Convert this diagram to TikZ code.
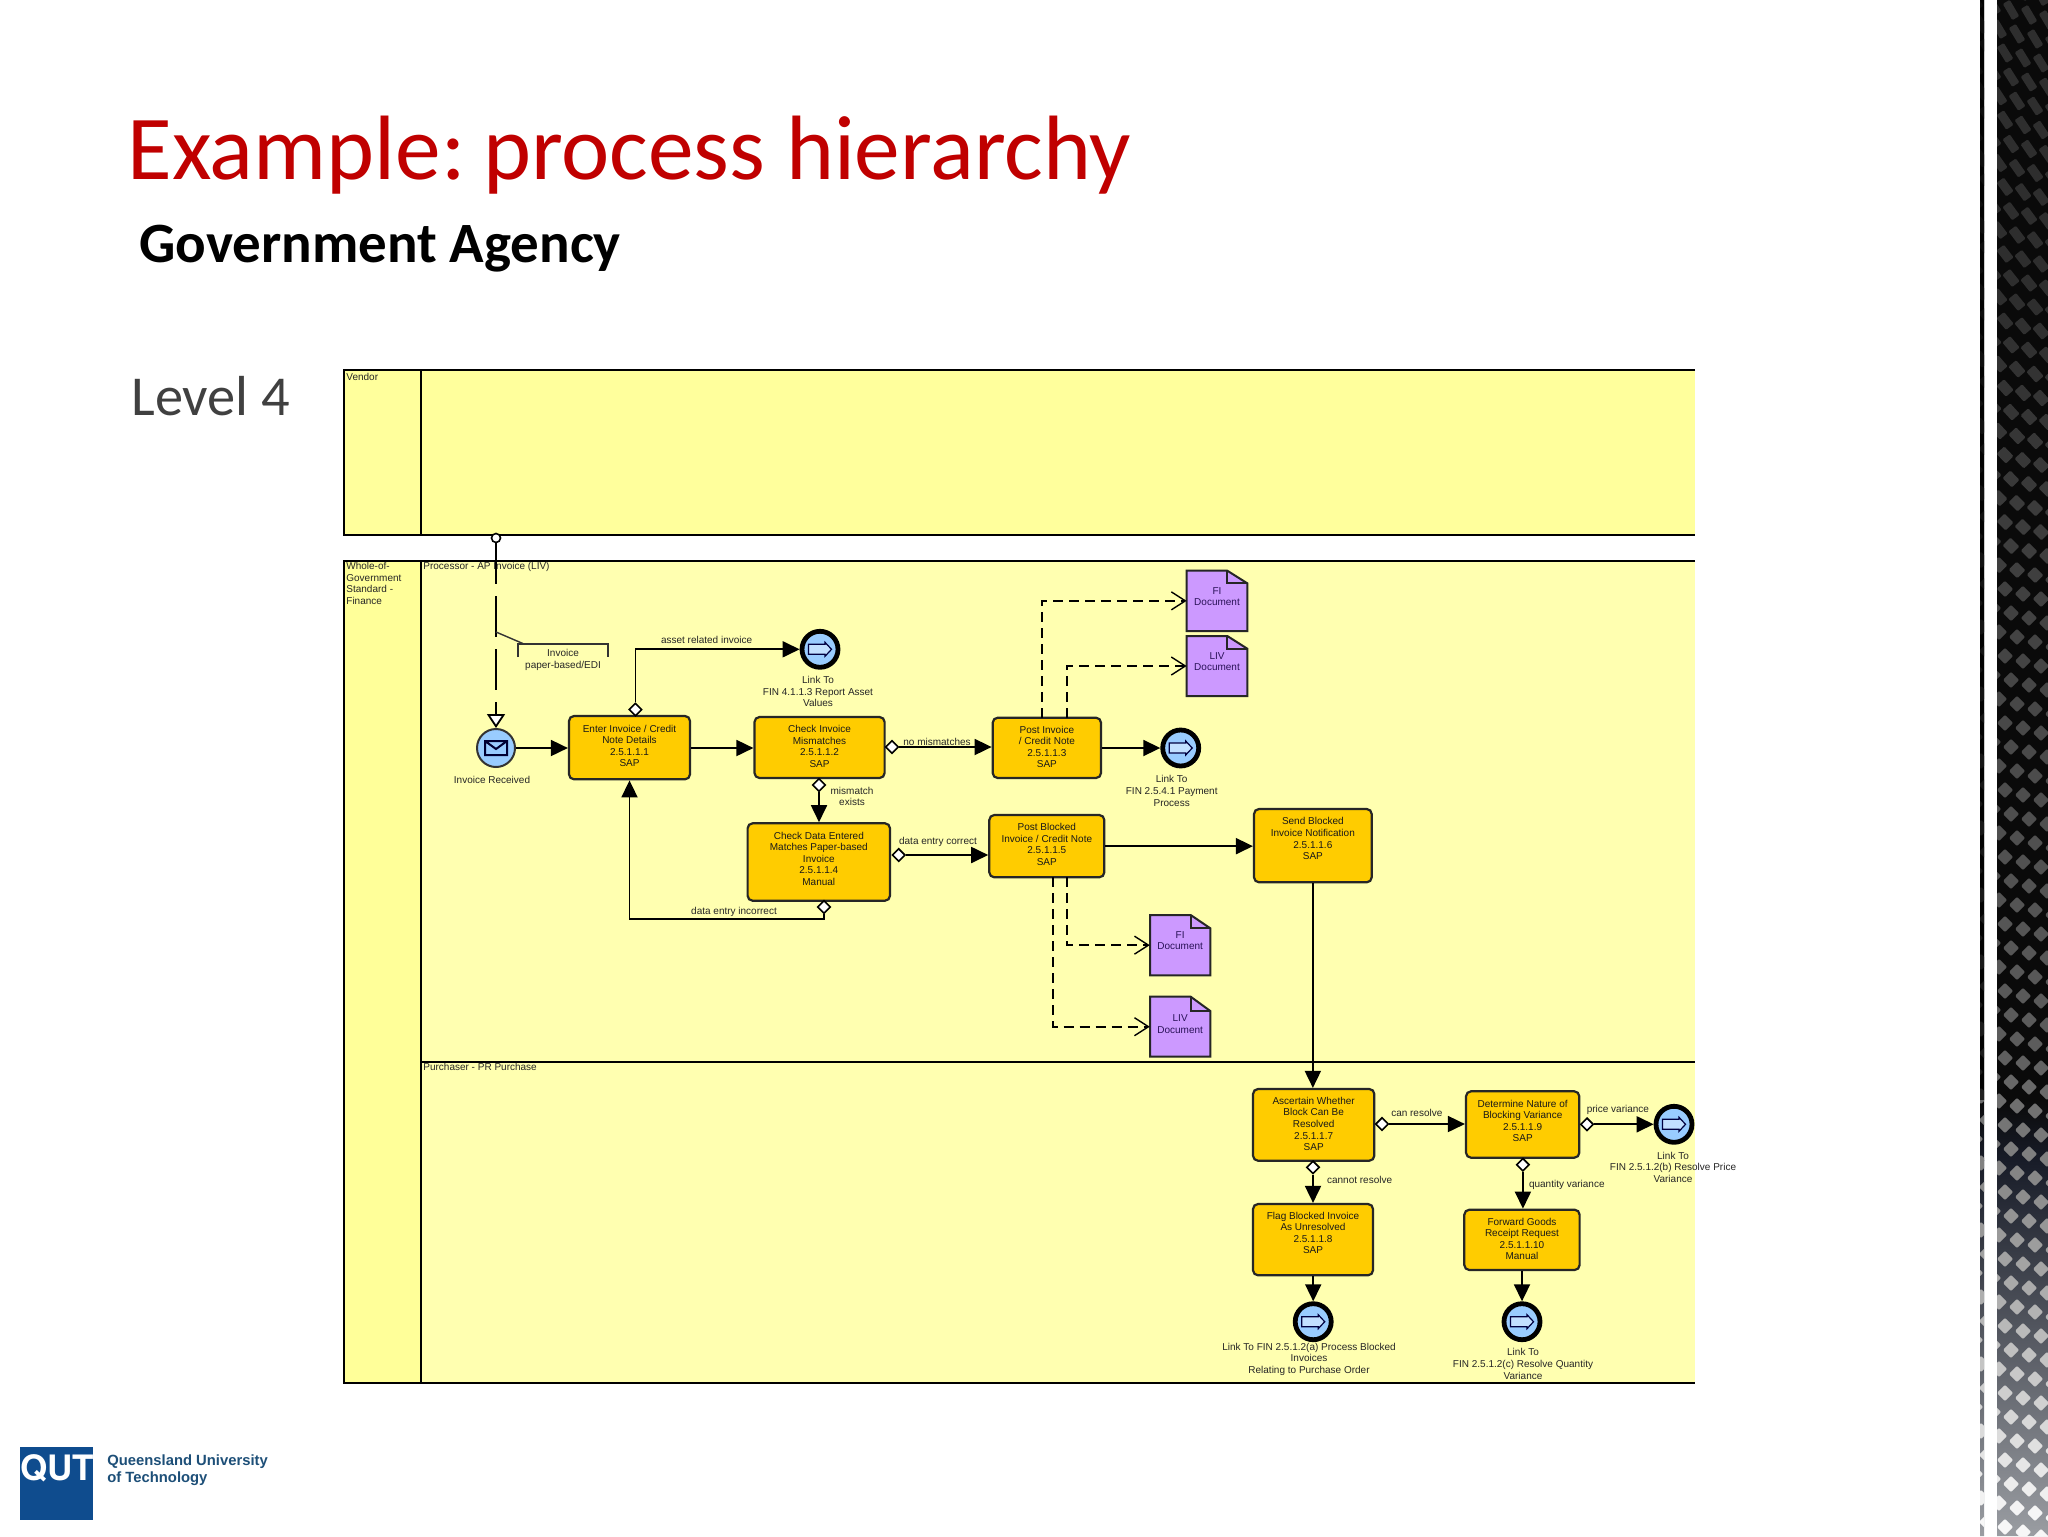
\documentclass[tikz,border=0pt]{standalone}
\usepackage{fontspec}
\setmainfont{Liberation Sans}
\newfontfamily\carl{Carlito}
\newfontfamily\heros{TeX Gyre Heros}
\usetikzlibrary{arrows.meta,shapes.geometric,calc}
\definecolor{taskfill}{HTML}{FFCC00}
\definecolor{evfill}{HTML}{99CCFF}
\definecolor{docfill}{HTML}{CC99FF}
\definecolor{doctext}{HTML}{2A1258}
\definecolor{lanefill}{HTML}{FFFFB0}
\definecolor{headfill}{HTML}{FFFF99}
\definecolor{vendfill}{HTML}{FFFF9C}
\definecolor{titlered}{HTML}{C00000}
\definecolor{qutblue}{HTML}{0F4C8E}
\definecolor{qutink}{HTML}{1D4F78}
\definecolor{levelgrey}{HTML}{404040}
\tikzset{
  lbl/.style={font=\fontsize{5.0}{5.8}\selectfont,align=center,inner sep=0pt,text=black!85},
  tasktext/.style={font=\fontsize{5.0}{5.8}\selectfont,align=center,inner sep=0pt,text=black!90},
  taskbox/.style={draw=black!85,line width=1.1pt,fill=taskfill,rounded corners=2.5pt,inner sep=0pt},
  endev/.style={circle,draw=black,line width=2.4pt,fill=evfill,minimum size=18pt,inner sep=0pt},
  startev/.style={circle,draw=black!80,line width=1pt,fill=evfill,minimum size=19pt,inner sep=0pt},
  gate/.style={diamond,draw=black,line width=.8pt,fill=white,minimum size=6.5pt,inner sep=0pt},
  ring/.style={circle,draw=black,line width=.8pt,fill=white,minimum size=4.5pt,inner sep=0pt},
  docbox/.style={minimum width=30pt,minimum height=30pt,inner sep=0pt},
  flow/.style={draw=black,line width=.9pt,-{Triangle[length=8.5pt,width=8pt]}},
  assoc/.style={draw=black,line width=1pt,dashed,dash pattern=on 5pt off 3pt,-{Straight Barb[length=7pt,width=9pt,line width=.7pt]}},
  msg/.style={draw=black,line width=.9pt,dash pattern=on 20.5pt off 6pt,-{Triangle[open,fill=white,length=7pt,width=9pt]}},
  note/.style={draw=black!80,line width=.7pt}
}
% name x0 y0 x1 y1 text-centre-y text
\newcommand\tasknode[7]{%
  \pgfmathsetmacro\tw{(#4-#2)*0.5}%
  \pgfmathsetmacro\th{(#5-#3)*0.5}%
  \pgfmathsetmacro\tcx{(#2+#4)/2}%
  \pgfmathsetmacro\tcy{(#3+#5)/2}%
  \pgfmathsetmacro\tys{-(#6-\tcy)*0.5}%
  \node[taskbox,minimum width=\tw pt,minimum height=\th pt,label={[tasktext,yshift=\tys pt]center:{#7}}] (#1) at (\tcx,\tcy) {};
}
% name x y : end event with link arrow
\newcommand\linkev[3]{%
  \node[endev] (#1) at (#2,#3) {};
  \draw[shift={(#1.center)},draw=black!75!blue,line width=.6pt,fill=evfill!60!white]
    (-11.5,-5)--(5,-5)--(5,-7)--(11.5,0)--(5,7)--(5,5)--(-11.5,5)--cycle;
}
% name x0 y0 foldx foldy x1 y1 lines-centre-y text
\newcommand\docnode[9]{%
  \draw[line width=1pt,draw=black!85,fill=docfill] (#2,#3)--(#4,#3)--(#6,#5)--(#6,#7)--(#2,#7)--cycle;
  \draw[line width=1pt,draw=black!85] (#4,#3)--(#4,#5)--(#6,#5);
  \pgfmathsetmacro\dcx{(#2+#6)/2}%
  \pgfmathsetmacro\dcy{(#3+#7)/2}%
  \node[docbox] (#1) at (\dcx,\dcy) {};
  \node[lbl,text=doctext] (#1text) at (\dcx,#8) {#9};
}
\begin{document}
\begin{tikzpicture}[x=0.5pt,y=-0.5pt]
\useasboundingbox (0,0) rectangle (2048,1536);
\fill[white] (0,0) rectangle (2048,1536);

% right-hand decorative strip
\begin{scope}
  \clip (1980,0) rectangle (1984,1536) (1997,0) rectangle (2048,1536);
  \definecolor{stripmid}{HTML}{181C28}
  \definecolor{stripend}{HTML}{9A9DA2}
  \fill[black!96] (1975,0) rectangle (2048,1100);
  \shade[top color=black!96,bottom color=stripmid] (1975,1100) rectangle (2048,1160);
  \shade[top color=stripmid,bottom color=stripend] (1975,1160) rectangle (2048,1536);
  \foreach \j in {-3,...,84}{
    \pgfmathtruncatemacro\ibase{round(12*\j/18)-1}
    \foreach \k in {0,...,6}{
      \pgfmathsetmacro\px{1975+18*(\ibase+\k)-12*\j}
      \pgfmathsetmacro\py{5*(\ibase+\k)+19*\j}
      \pgfmathsetmacro\g{min(0.97,0.18+max(\py-300,0)*0.00025+max(\py-1050,0)*0.00105)}
      \pgfmathsetmacro\sw{max(11.5,19-max(\py,0)*0.012)*0.25}
      \pgfmathsetmacro\sh{min(11.5,8+max(\py,0)*0.006)*0.25}
      \pgfmathsetmacro\rt{-max(45,60-max(\py,0)*0.03)}
      \fill[rounded corners=.6pt,fill={rgb,1:red,\g;green,\g;blue,\g},shift={(\px,\py)},rotate=\rt]
        (-\sw pt,-\sh pt) rectangle (\sw pt,\sh pt);
    }
  }
  \fill[black,opacity=.7] (1978,0) rectangle (1986,1100);
\end{scope}

% titles
\node[font=\carl\fontsize{45.7}{50}\selectfont,text=titlered,anchor=base west,inner sep=0pt] (title) at (127,179) {Example:\hspace{-5pt} process hierarchy};
\node[font=\carl\bfseries\fontsize{28.5}{32}\selectfont,text=black,anchor=base west,inner sep=0pt] (subtitle) at (139,262) {Government Agency};
\node[font=\carl\fontsize{28.2}{32}\selectfont,text=levelgrey,anchor=base west,inner sep=0pt] (level) at (131,415) {Level 4};

% lanes
\fill[vendfill] (344,370) rectangle (1695,535);
\draw[line width=1pt] (1695,370) -- (344,370) -- (344,535) -- (1695,535);
\draw[line width=1pt] (421,370) -- (421,535);
\fill[lanefill] (344,561) rectangle (1695,1382.5);
\fill[headfill] (344,561) rectangle (421,1382.5);
\draw[line width=1pt] (1695,561) -- (344,561) -- (344,1382.5) -- (1695,1382.5);
\draw[line width=1pt] (421,561) -- (421,1382.5);
\draw[line width=1pt] (421,1062) -- (1695,1062);
\node[lbl,anchor=west,align=left] (vendor) at (346,377) {Vendor};
\node[lbl,anchor=west,align=left] (wog) at (346,583.5) {Whole-of-\\Government\\Standard -\\Finance};
\node[lbl,anchor=west,align=left] (procl) at (423,567) {Processor - AP Invoice (LIV)};
\node[lbl,anchor=west,align=left] (purchl) at (423,1067) {Purchaser - PR Purchase};

% tasks
\tasknode{t1}{569}{716}{690}{779.3}{746}{Enter Invoice / Credit\\Note Details\\2.5.1.1.1\\SAP}
\tasknode{t2}{754.5}{717}{884.6}{778}{746.5}{Check Invoice\\Mismatches\\2.5.1.1.2\\SAP}
\tasknode{t3}{992.7}{717.7}{1101}{778}{747}{Post Invoice\\/ Credit Note\\2.5.1.1.3\\SAP}
\tasknode{t4}{747.6}{823.3}{890}{900.7}{858.7}{Check Data Entered\\Matches Paper-based\\Invoice\\2.5.1.1.4\\Manual}
\tasknode{t5}{989.3}{815}{1104.3}{877.3}{844.3}{Post Blocked\\Invoice / Credit Note\\2.5.1.1.5\\SAP}
\tasknode{t6}{1254}{809}{1371.7}{882.3}{838.7}{Send Blocked\\Invoice Notification\\2.5.1.1.6\\SAP}
\tasknode{t7}{1253}{1089}{1374.3}{1160.7}{1124}{Ascertain Whether\\Block Can Be\\Resolved\\2.5.1.1.7\\SAP}
\tasknode{t8}{1253}{1204}{1373}{1275.3}{1233}{Flag Blocked Invoice\\As Unresolved\\2.5.1.1.8\\SAP}
\tasknode{t9}{1466}{1091.3}{1579.3}{1157.7}{1121}{Determine Nature of\\Blocking Variance\\2.5.1.1.9\\SAP}
\tasknode{t10}{1464.3}{1209.7}{1579.6}{1270}{1239}{Forward Goods\\Receipt Request\\2.5.1.1.10\\Manual}

% events
\node[startev] (start) at (496,748) {};
\draw[line width=1pt,draw=black!80!blue,shift={(start.center)}] (-11,-7) rectangle (11,7) (-11,-7) -- (0,1) -- (11,-7);
\linkev{end1}{820}{649.3}
\linkev{end2}{1180.7}{748}
\linkev{end3}{1674}{1124.3}
\linkev{end4}{1313.2}{1321.7}
\linkev{end5}{1522}{1321.7}

% documents
\docnode{docA}{1186.7}{570.7}{1227.3}{583.3}{1247.3}{631}{596.5}{FI\\Document}
\docnode{docB}{1186.7}{636}{1227.3}{648.7}{1247.3}{696}{661.5}{LIV\\Document}
\docnode{docC}{1150}{915}{1190.7}{928.3}{1210.3}{975.3}{940.7}{FI\\Document}
\docnode{docD}{1150}{996.7}{1190.7}{1011}{1210.3}{1056.7}{1024}{LIV\\Document}

% gates
\node[ring] (src) at (496,538) {};
\node[gate] (g1) at (635.4,709.6) {};
\node[gate] (g2) at (892,747) {};
\node[gate] (g3) at (819,785) {};
\node[gate] (g4) at (898.7,855) {};
\node[gate] (g5) at (824,907) {};
\node[gate] (g7r) at (1382,1124) {};
\node[gate] (g7b) at (1313,1167.3) {};
\node[gate] (g9r) at (1587,1124.3) {};
\node[gate] (g9b) at (1522.9,1164.7) {};

% connectors
\draw[msg] (src) -- (start.north);
\draw[flow] (start) -- (t1.west |- start);
\draw[flow] (t1.east |- start) -- (t2.west |- start);
\draw[flow] (g1) |- (end1);
\draw[flow] (g2) -- (t3.west |- g2);
\draw[flow] (g3) -- (g3 |- t4.north);
\draw[flow] (g4) -- (t5.west |- g4);
\coordinate (loop) at (t1.south |- 0,919.3);
\draw[flow] (g5) |- (loop) -- (t1.south);
\draw[flow] (t3.east |- end2) -- (end2);
\draw[flow] (t5.east) -- (t5.east -| t6.west);
\draw[flow] (t6.south) -- (t6.south |- t7.north);
\draw[flow] (g7r) -- (t9.west |- g7r);
\draw[flow] (g7b) -- (g7b |- t8.north);
\draw[flow] (g9r) -- (end3);
\draw[flow] (g9b) -- (g9b |- t10.north);
\draw[flow] (t8.south -| end4) -- (end4);
\draw[flow] (t10.south -| end5) -- (end5);

\coordinate (a1) at (1042.3,717.7);
\coordinate (a2) at (1067,717.7);
\coordinate (a3) at (1067,877.3);
\coordinate (a4) at (1053,877.3);
\draw[assoc] (a1) |- (docA.west);
\draw[assoc] (a2) |- (docB.west);
\draw[assoc] (a3) |- (docC.west);
\draw[assoc] (a4) |- (docD.west);

% invoice annotation
\coordinate (n0) at (496,632);
\coordinate (n1) at (524,644);
\coordinate (n2) at (518,644);
\coordinate (n3) at (518,657);
\coordinate (n4) at (608,644);
\coordinate (n5) at (608,657);
\draw[note] (n0) -- (n1);
\draw[note] (n3) -- (n2) -- (n4) -- (n5);
\node[lbl] (inv) at (563,660) {Invoice\\paper-based/EDI};

% labels
\node[lbl] (lstart) at (492,780) {Invoice Received};
\node[lbl] (lasset) at (706.6,640) {asset related invoice};
\node[lbl] (lend1) at (818,691.7) {Link To\\FIN 4.1.1.3 Report Asset\\Values};
\node[lbl] (lnomis) at (937,742.3) {no mismatches};
\node[lbl] (lmis) at (852,796.6) {mismatch\\exists};
\node[lbl] (lcorr) at (938,842) {data entry correct};
\node[lbl] (lincorr) at (734,912) {data entry incorrect};
\node[lbl] (lend2) at (1171.7,791) {Link To\\FIN 2.5.4.1 Payment\\Process};
\node[lbl] (lcan) at (1416.8,1113) {can resolve};
\node[lbl] (lcannot) at (1359.6,1179.7) {cannot resolve};
\node[lbl] (lprice) at (1617.9,1109.7) {price variance};
\node[lbl] (lqty) at (1566.8,1184.7) {quantity variance};
\node[lbl] (lend3) at (1673,1167.3) {Link To\\FIN 2.5.1.2(b) Resolve Price\\Variance};
\node[lbl] (lend4) at (1309,1359) {Link To FIN 2.5.1.2(a) Process Blocked\\Invoices\\Relating to Purchase Order};
\node[lbl] (lend5) at (1523,1364) {Link To\\FIN 2.5.1.2(c) Resolve Quantity\\Variance};

% logo
\node[fill=qutblue,minimum size=36.5pt,inner sep=0pt] (logo) at (56.5,1483.8) {};
\node[font=\heros\bfseries\fontsize{17.5}{18}\selectfont,text=white,inner sep=0pt] (logotext) at (57,1468) {QUT};
\node[font=\bfseries\fontsize{7.4}{8.2}\selectfont,text=qutink,anchor=north west,align=left,inner sep=0pt] (logoname) at (107,1454.5) {Queensland University\\of Technology};
\end{tikzpicture}
\end{document}
